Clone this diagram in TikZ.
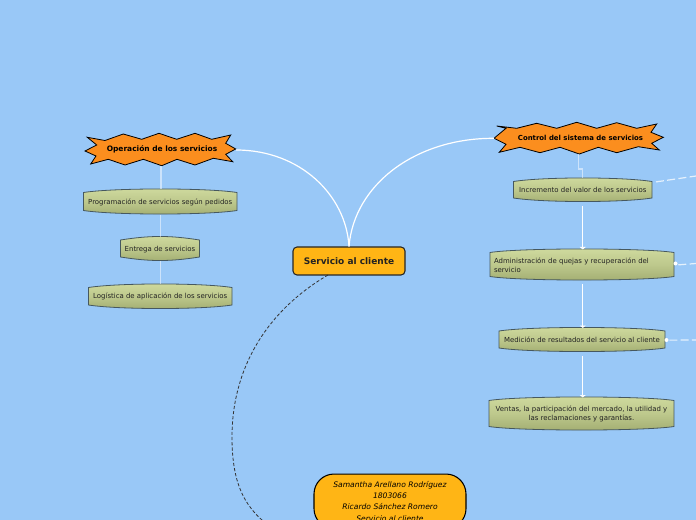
\documentclass[tikz,border=0pt]{standalone}
\usepackage{fontspec}
\setmainfont{DejaVu Sans}
\usetikzlibrary{arrows.meta}
\definecolor{bgblue}{HTML}{99C8F7}
\definecolor{starfill}{HTML}{FB8E1E}
\definecolor{mainfill}{HTML}{FFB515}
\definecolor{boxtop}{HTML}{CFDA9E}
\definecolor{boxbot}{HTML}{A3AE72}
\definecolor{boxline}{HTML}{46585F}
\definecolor{txt}{HTML}{222222}
\tikzset{
  x=0.75pt,y=-0.75pt,
  shapebody/.style={top color=boxtop,bottom color=boxbot,middle color=boxtop!60!boxbot,draw=boxline,line width=0.6pt},
  boxlabel/.style={inner sep=0pt,font=\fontsize{5.2}{6.4}\selectfont,text=txt,align=center},
  starbody/.style={fill=starfill,draw=black,line width=0.6pt},
  starlabel/.style={inner sep=0pt,font=\fontsize{5.6}{7}\selectfont\bfseries,text=black},
  mainlink/.style={draw=white,line width=0.9pt},
  palelink/.style={draw=white,opacity=0.5,line width=0.8pt},
  flowlink/.style={draw=white,line width=0.8pt,-{Triangle[width=4.5pt,length=1.8pt]},shorten <=2.5pt},
  stublink/.style={draw=white,opacity=0.75,line width=0.9pt,dash pattern=on 6pt off 2.5pt,shorten <=3pt},
  dotend/.style={circle,fill=white,inner sep=0pt,minimum size=3pt},
  mainnode/.style={draw=black!85,fill=mainfill,rounded corners=3pt,line width=0.8pt,inner sep=0pt,
    minimum width=84pt,minimum height=21pt,text=txt,font=\fontsize{6.75}{8}\selectfont\bfseries},
  authornode/.style={draw=black,fill=mainfill,rounded corners=15pt,line width=0.8pt,inner xsep=0pt,inner ysep=5.4pt,
    minimum width=114pt,align=center,anchor=north,
    font=\fontsize{5.7}{8.5}\selectfont\itshape,text=black},
  deadlink/.style={draw=black!80,line width=0.6pt,dash pattern=on 2.4pt off 1.5pt},
}
% #1 name, #2 x0, #3 y0, #4 x1, #5 y1, #6 text options, #7 text
\newcommand{\bulgebox}[7]{%
  \path[shapebody] (#2,#3+3.5) .. controls (#2+30,#3-1.2) and (#4-30,#3-1.2) .. (#4,#3+3.5)
    -- (#4,#5-3.5) .. controls (#4-30,#5+1.2) and (#2+30,#5+1.2) .. (#2,#5-3.5) -- cycle;
  \node[boxlabel,minimum width={(#4-#2)*0.75pt},minimum height={(#5-#3)*0.75pt},#6] (#1) at ({(#2+#4)/2},{(#3+#5)/2}) {#7};
}
\begin{document}
\begin{tikzpicture}
\clip (0,0) rectangle (696,520);
\fill[bgblue] (0,0) rectangle (696,520);
\useasboundingbox (0,0) rectangle (696,520);

% stars
\path[starbody] (85,151) -- (96.7,145) -- (87.3,137.3) -- (105,140.5) -- (123.3,134) -- (141.7,139.3) -- (159,133.3) -- (176.7,139.3) -- (195,133.3) -- (211.7,139.3) -- (230.7,135) -- (225.7,143.3) -- (235.7,149) -- (225.7,154.3) -- (232.7,161.7) -- (213.3,158.3) -- (195,165) -- (177,159.3) -- (161.7,165.7) -- (143.3,159.3) -- (125,165) -- (108.3,159.3) -- (90.7,164) -- (96,156) -- cycle;
\node[starlabel] (ops) at (162,149.6) {Operación de los servicios};

\path[starbody] (494,138.3) -- (506,128.3) -- (496.7,126) -- (516.7,128.3) -- (536.7,123.3) -- (556.7,128.3) -- (576.7,122.3) -- (596.7,128.3) -- (616.7,122.7) -- (636.7,128.3) -- (656.7,124) -- (651,132.3) -- (663.3,137.3) -- (651.7,143.3) -- (659.3,150) -- (638.3,146.7) -- (616.7,152.7) -- (598.3,147.3) -- (579.3,154) -- (560,147.3) -- (540,152.7) -- (520,147.3) -- (499.3,152.3) -- (506,144.3) -- cycle;
\node[starlabel,font=\fontsize{5.2}{7}\selectfont\bfseries] (ctl) at (580.5,137.5) {Control del sistema de servicios};

% boxes
\bulgebox{prog}{83.5}{189}{237}{214}{yshift=-0.5pt}{Programación de servicios según pedidos}
\bulgebox{ent}{120.5}{236.5}{199.5}{260.5}{yshift=-0.5pt}{Entrega de servicios}
\bulgebox{log}{88.5}{284}{232}{308.5}{yshift=-0.5pt}{Logística de aplicación de los servicios}
\bulgebox{inc}{513.5}{178}{652}{201.5}{yshift=-0.5pt}{Incremento del valor de los servicios}
\bulgebox{adm}{490}{249}{674}{280}{text width=132pt,align=left,yshift=-0.5pt}{Administración de quejas y recuperación del\\servicio}
\bulgebox{med}{499}{327.5}{665}{351.5}{yshift=-0.5pt}{Medición de resultados del servicio al cliente}
\bulgebox{ven}{489}{397}{674}{430}{yshift=-0.5pt}{Ventas, la participación del mercado, la utilidad y\\las reclamaciones y garantías.}

% main nodes
\node[mainnode] (main) at (349,261) {Servicio al cliente};
\node[authornode] (auth) at (390,473.5) {Samantha Arellano Rodríguez\\1803066\\Ricardo Sánchez Romero\\Servicio al cliente};

% free ends
\coordinate (endinc) at (696,176);
\coordinate (startinc) at (652,182.5);
\coordinate (endadm) at (696,263.5);
\coordinate (endmed) at (696,340);
\coordinate (mainbot) at (328,275);
\coordinate (deadmid) at (232,437);
\coordinate (deadlow) at (275,530);

% connectors
\draw[mainlink] (main.north) .. controls (346,195) and (300,150) .. (236,150);
\draw[mainlink] (main.north) .. controls (354,185) and (415,138) .. (494,138.3);
\draw[deadlink] (mainbot) .. controls (265,312) and (232,370) .. (deadmid) .. controls (232,485) and (245,510) .. (deadlow) -- (auth.south west);

\draw[palelink] (161,165.7) -- (161,189);
\draw[palelink] ([xshift=0.5pt]prog.south) -- ([xshift=0.5pt]prog.south |- ent.north);
\draw[palelink] ([xshift=0.5pt]prog.south |- ent.south) -- ([xshift=0.5pt]prog.south |- log.north);
\draw[palelink] (578.5,154) |- (582.5,169) -- (582.5,178);

\draw[flowlink] (inc.south) -- (inc.south |- adm.north);
\draw[flowlink] (inc.south |- adm.south) -- (inc.south |- med.north);
\draw[flowlink] (inc.south |- med.south) -- (inc.south |- ven.north);

\draw[stublink] (startinc) -- (endinc);
\draw[stublink] (adm.east) -- (endadm);
\draw[stublink] (med.east) -- (endmed);
\node[dotend] (dadm) at (675.5,263.5) {};
\node[dotend] (dmed) at (666.5,340) {};
\end{tikzpicture}
\end{document}
